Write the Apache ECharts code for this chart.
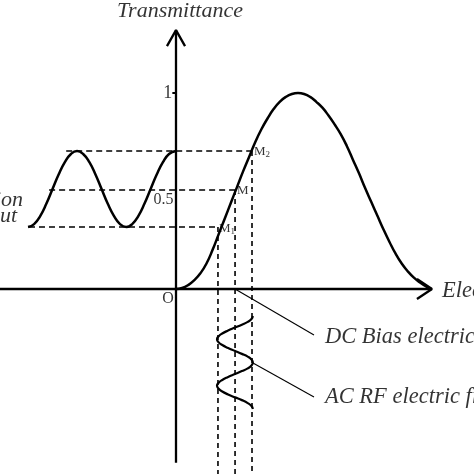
<!DOCTYPE html>
<html>
<head>
<meta charset="utf-8">
<script src="https://cdn.jsdelivr.net/npm/echarts@6/dist/echarts.min.js"></script>
<style>html,body{margin:0;padding:0;background:#fff;}#c{width:474px;height:474px;}</style>
</head>
<body>
<div id="c"></div>
<script>
// Transfer curve: normalized electric field (peak = 1) vs transmittance
const curveX = [0, 0.05, 0.1, 0.15, 0.2, 0.25, 0.3, 0.35, 0.4, 0.45, 0.5, 0.55, 0.6, 0.65, 0.7, 0.75, 0.8, 0.85, 0.9, 0.95, 1.0,
  1.05, 1.1, 1.15, 1.2, 1.25, 1.3, 1.35, 1.4, 1.45, 1.5, 1.55, 1.6, 1.65, 1.7, 1.75, 1.8, 1.85, 1.9, 1.95, 2.0, 2.05, 2.07];
const curveT = [0, 0.005, 0.02, 0.045, 0.08, 0.13, 0.2, 0.28, 0.36, 0.44, 0.52, 0.6, 0.675, 0.75, 0.815, 0.87, 0.918, 0.955, 0.98, 0.995, 1.0,
  0.995, 0.98, 0.955, 0.925, 0.885, 0.84, 0.79, 0.73, 0.66, 0.59, 0.515, 0.445, 0.375, 0.305, 0.24, 0.18, 0.13, 0.09, 0.058, 0.033, 0.013, 0.005];

// Modulated optical output (left wave)
const outWaveX = [-1.213, -1.163, -1.112, -1.062, -1.012, -0.962, -0.911, -0.861, -0.811, -0.761, -0.710, -0.660, -0.610,
  -0.560, -0.509, -0.459, -0.409, -0.359, -0.308, -0.258, -0.208, -0.158, -0.107, -0.057, 0];
const outWaveT = [0.316, 0.331, 0.373, 0.436, 0.51, 0.584, 0.647, 0.689, 0.704, 0.689, 0.647, 0.584, 0.51,
  0.436, 0.373, 0.331, 0.316, 0.331, 0.373, 0.436, 0.51, 0.584, 0.647, 0.689, 0.704];

// AC RF electric field (wave below the axis)
const rfWaveX = [0.63, 0.619, 0.588, 0.540, 0.484, 0.427, 0.379, 0.348, 0.336, 0.348, 0.379, 0.427, 0.484, 0.540, 0.588, 0.619,
  0.63, 0.619, 0.588, 0.540, 0.484, 0.427, 0.379, 0.348, 0.336, 0.348, 0.379, 0.427, 0.484, 0.540, 0.588, 0.619, 0.63];
const rfWaveY = [-0.138, -0.153, -0.168, -0.182, -0.197, -0.212, -0.227, -0.242, -0.256, -0.271, -0.286, -0.301, -0.316, -0.331, -0.345, -0.360,
  -0.375, -0.390, -0.405, -0.419, -0.434, -0.449, -0.464, -0.479, -0.493, -0.508, -0.523, -0.538, -0.553, -0.567, -0.582, -0.597, -0.612];

// Operating points
const pointNames = ['M1', 'M', 'M2'];
const pointX = [0.344, 0.484, 0.623];
const pointT = [0.316, 0.505, 0.704];
const dashFromX = [-1.205, -1.04, -0.90];

// Tick labels
const tickValues = [1, 0.5];
const tickLabels = ['1', '0.5'];

// Plot extent (data units)
const XMIN = -1.4426, XMAX = 2.4426, YMIN = -0.9439, YMAX = 1.4745;

const serif = '"Liberation Serif","DejaVu Serif",serif';
const blk = '#000';

function line(data, opt) {
  return Object.assign({
    type: 'line', data: data, symbol: 'none', silent: true, animation: false,
    lineStyle: { color: blk, width: 2 }, z: 3
  }, opt || {});
}

const series = [];
// axes
series.push(line([[0, -0.887], [0, 1.321]], { lineStyle: { color: blk, width: 2.3 } }));
series.push(line([[-0.074, 1.239], [0, 1.321], [0.074, 1.239]], { lineStyle: { color: blk, width: 2.3 } }));
series.push(line([[XMIN, 0], [2.098, 0]], { lineStyle: { color: blk, width: 2.3 } }));
series.push(line([[1.975, 0.051], [2.098, 0], [1.975, -0.051]], { lineStyle: { color: blk, width: 2.3 } }));
// tick at 1
series.push(line([[-0.03, 1], [0, 1]], { lineStyle: { color: blk, width: 2 } }));

// transfer curve
series.push(line(curveX.map((x, i) => [x, curveT[i]]), { smooth: true, lineStyle: { color: blk, width: 2.5 }, z: 5 }));
// output wave
series.push(line(outWaveX.map((x, i) => [x, outWaveT[i]]), { smooth: true, lineStyle: { color: blk, width: 2.5 }, z: 5 }));
// RF wave
series.push(line(rfWaveX.map((x, i) => [x, rfWaveY[i]]), { smooth: true, lineStyle: { color: blk, width: 2.2 }, z: 5 }));

// dashed guides
pointNames.forEach((n, i) => {
  series.push(line([[dashFromX[i], pointT[i]], [pointX[i], pointT[i]]], { lineStyle: { color: blk, width: 1.6, type: [6, 4] }, z: 2 }));
  series.push(line([[pointX[i], pointT[i]], [pointX[i], YMIN]], { lineStyle: { color: blk, width: 1.6, type: [5, 4] }, z: 2 }));
});

// pointer lines
series.push(line([[0.484, 0], [1.131, -0.235]], { lineStyle: { color: blk, width: 1.1 } }));
series.push(line([[0.631, -0.378], [1.131, -0.551]], { lineStyle: { color: blk, width: 1.1 } }));

// text labels
function txt(x, y, text, align, size, italic, extra) {
  return {
    value: [x, y],
    label: Object.assign({
      show: true, position: 'inside', formatter: text, align: align, verticalAlign: 'middle',
      fontFamily: serif, fontSize: size, fontStyle: italic ? 'italic' : 'normal', color: blk,
      textBorderWidth: 0
    }, extra || {})
  };
}
const subRich = { rich: { s: { fontSize: 9, fontFamily: serif, color: blk, textBorderWidth: 0, verticalAlign: 'bottom', padding: [5, 0, 0, 0] } } };
const texts = [
  txt(0.033, 1.418, 'Transmittance', 'center', 22, true),
  txt(-0.03, tickValues[0], tickLabels[0], 'right', 18, false),
  txt(-0.02, 0.454, tickLabels[1], 'right', 16, false),
  txt(-0.066, -0.05, 'O', 'center', 16, false),
  txt(2.18, -0.01, 'Electric field', 'left', 22.5, true),
  txt(1.221, -0.245, 'DC Bias electric field', 'left', 22.5, true),
  txt(1.221, -0.551, 'AC RF electric field', 'left', 22.5, true),
  txt(-1.254, 0.455, 'Modulation', 'right', 22, true),
  txt(-1.303, 0.37, 'output', 'right', 22, true),
  txt(0.639, 0.699, 'M{s|2}', 'left', 13, false, subRich),
  txt(0.5, 0.5, 'M', 'left', 13, false),
  txt(0.352, 0.306, 'M{s|1}', 'left', 13, false, subRich)
];
series.push({ type: 'scatter', data: texts, symbolSize: 0, silent: true, animation: false, z: 10 });

const chart = echarts.init(document.getElementById('c'), null, { renderer: 'canvas' });
chart.setOption({
  backgroundColor: '#fff',
  animation: false,
  grid: { left: 0, right: 0, top: 0, bottom: 0 },
  xAxis: { type: 'value', min: XMIN, max: XMAX, show: false },
  yAxis: { type: 'value', min: YMIN, max: YMAX, show: false },
  series: series
});
</script>
</body>
</html>
